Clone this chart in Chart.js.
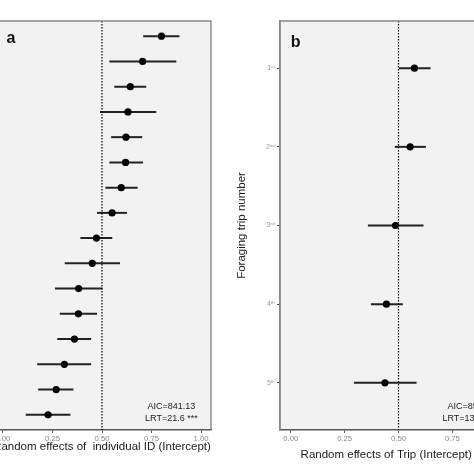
<!DOCTYPE html>
<html><head><meta charset="utf-8">
<script src="https://cdn.jsdelivr.net/npm/chart.js@4.4.1/dist/chart.umd.min.js"></script>
<style>
html,body{margin:0;padding:0;background:#fff;width:474px;height:474px;overflow:hidden;position:relative}
#wa{position:absolute;left:-41px;top:0;width:256px;height:474px}
#wb{position:absolute;left:234px;top:0;width:290px;height:474px}
</style></head><body>
<div id="wa"><canvas id="ca" width="256" height="474"></canvas></div>
<div id="wb"><canvas id="cb" width="290" height="474"></canvas></div>
<script>
// ---- data ----
const idRows = [1,2,3,4,5,6,7,8,9,10,11,12,13,14,15,16];
const idEst = [0.800,0.705,0.643,0.631,0.621,0.619,0.597,0.551,0.472,0.451,0.382,0.381,0.361,0.310,0.269,0.228];
const idLo  = [0.708,0.537,0.562,0.490,0.546,0.537,0.517,0.475,0.391,0.312,0.263,0.287,0.274,0.173,0.178,0.115];
const idHi  = [0.891,0.875,0.723,0.774,0.703,0.707,0.680,0.626,0.552,0.591,0.503,0.475,0.445,0.445,0.356,0.341];
const tripRows = [1,2,3,4,5];
const tripLabels = ['1ˢᵗ','2ⁿᵈ','3ʳᵈ','4ᵗʰ','5ᵗʰ'];
const tripEst = [0.574,0.554,0.486,0.444,0.437];
const tripLo  = [0.502,0.483,0.358,0.372,0.293];
const tripHi  = [0.649,0.627,0.616,0.520,0.584];
const xTickValues = [0,0.25,0.5,0.75,1];
const xTickLabels = ['0.00','0.25','0.50','0.75','1.00'];
const refValue = 0.5;
const titleA = 'Random effects of  individual ID (Intercept)';
const titleB = 'Random effects of Trip (Intercept)';
const yTitleB = 'Foraging trip number';
const statsA = ['AIC=841.13','LRT=21.6 ***'];
const statsB = ['AIC=851.55','LRT=13.21 ***'];

const SANS = '"Liberation Sans", Arial, sans-serif';

function buildDatasets(rows, est, lo, hi, yMin, yMax){
  const ds = [];
  rows.forEach((r,i)=>{
    ds.push({data:[{x:lo[i],y:r},{x:hi[i],y:r}], showLine:true, borderColor:'#222', borderWidth:2,
      pointRadius:0, order:2});
  });
  ds.push({data:[{x:refValue,y:yMin},{x:refValue,y:yMax}], showLine:true, borderColor:'#000',
    borderWidth:1.2, borderDash:[1.5,1.5], pointRadius:0, order:1});
  ds.push({data:rows.map((r,i)=>({x:est[i],y:r})), pointRadius:3.6, pointBackgroundColor:'#000',
    pointBorderColor:'#000', pointBorderWidth:0, showLine:false, order:0});
  return ds;
}

function panelPlugin(cfg){
  return {
    id:'panel'+cfg.tag,
    beforeDraw(chart){
      const {ctx, chartArea:a} = chart;
      ctx.save();
      ctx.fillStyle = '#f2f2f2';
      ctx.fillRect(a.left, a.top, a.right-a.left, a.bottom-a.top);
      ctx.restore();
    },
    afterDatasetsDraw(chart){
      const {ctx, chartArea:a, scales} = chart;
      ctx.save();
      ctx.strokeStyle = '#888'; ctx.lineWidth = 1.4;
      ctx.beginPath();
      ctx.moveTo(a.left, a.bottom); ctx.lineTo(a.left, a.top);
      ctx.lineTo(a.right, a.top); ctx.lineTo(a.right, a.bottom);
      ctx.stroke();
      // panel tag
      ctx.fillStyle = '#111';
      ctx.font = 'bold 16px ' + SANS;
      ctx.textAlign = 'center'; ctx.textBaseline = 'alphabetic';
      ctx.fillText(cfg.tag, a.left + cfg.tagDx, a.top + cfg.tagDy);
      // stats
      ctx.font = '9px ' + SANS;
      ctx.fillStyle = '#222';
      ctx.textBaseline = 'middle';
      const sx = scales.x.getPixelForValue(cfg.statsX);
      ctx.fillText(cfg.stats[0], sx, a.bottom - 23);
      ctx.fillText(cfg.stats[1], sx, a.bottom - 11);
      if (cfg.xTitle) {
        ctx.font = '11.5px ' + SANS;
        ctx.fillStyle = '#1a1a1a';
        ctx.fillText(cfg.xTitle, scales.x.getPixelForValue(cfg.xTitleAt), 455);
      }
      ctx.restore();
    }
  };
}

function xScale(title){
  return {
    type:'linear', min:-0.05, max:1.05,
    afterBuildTicks:s=>{ s.ticks = xTickValues.map(v=>({value:v})); },
    afterFit:s=>{ s.height = 44; },
    ticks:{callback:(v,i)=>xTickLabels[i], font:{family:SANS,size:7.7}, color:'#888', padding:1.5,
      maxRotation:0, autoSkip:false},
    grid:{drawOnChartArea:false, drawTicks:true, tickLength:3, color:'#555', lineWidth:1},
    border:{display:true, color:'#555', width:1.6},
    title: title ? {display:true, text:title, font:{family:SANS,size:11.5}, color:'#1a1a1a',
      padding:{top:0,bottom:20}} : {display:false}
  };
}

new Chart(document.getElementById('ca'), {
  type:'scatter',
  data:{datasets:buildDatasets(idRows, idEst, idLo, idHi, 0.4, 16.6)},
  options:{
    responsive:false, animation:false, events:[],
    layout:{padding:{left:34,right:4,top:21,bottom:0}},
    plugins:{legend:{display:false}, tooltip:{enabled:false}},
    scales:{
      x:xScale(titleA),
      y:{type:'linear', min:0.4, max:16.6, reverse:true, display:false}
    }
  },
  plugins:[panelPlugin({tag:'a', tagDx:18, tagDy:22, stats:statsA, statsX:0.85})]
});

new Chart(document.getElementById('cb'), {
  type:'scatter',
  data:{datasets:buildDatasets(tripRows, tripEst, tripLo, tripHi, 0.4, 5.6)},
  options:{
    responsive:false, animation:false, events:[],
    layout:{padding:{left:0,right:7,top:21,bottom:0}},
    plugins:{legend:{display:false}, tooltip:{enabled:false}},
    scales:{
      x:xScale(null),
      y:{type:'linear', min:0.4, max:5.6, reverse:true,
        afterBuildTicks:s=>{ s.ticks = tripRows.map(v=>({value:v})); },
        afterFit:s=>{ s.width = 46; },
        ticks:{callback:(v,i)=>tripLabels[i], font:{family:SANS,size:7}, color:'#999', padding:2, autoSkip:false},
        grid:{drawOnChartArea:false, drawTicks:true, tickLength:3, color:'#444', lineWidth:1},
        border:{display:true, color:'#888', width:1.5},
        title:{display:true, text:yTitleB, font:{family:SANS,size:11.5}, color:'#222', padding:{top:1,bottom:0}}
      }
    }
  },
  plugins:[panelPlugin({tag:'b', tagDx:15.7, tagDy:25.7, stats:statsB, statsX:0.838, xTitle:titleB, xTitleAt:0.443})]
});
</script>
</body></html>
